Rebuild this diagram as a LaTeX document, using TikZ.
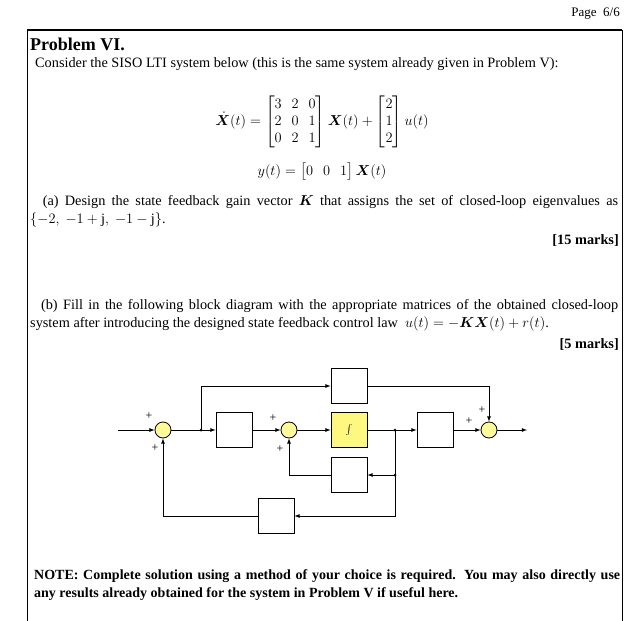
\documentclass[tikz,border=0pt]{standalone}
\usepackage{amsmath,bm}
\usepackage{fontspec}
\setmainfont{Liberation Serif}
\begin{document}
\begin{tikzpicture}[x=1pt,y=-1pt,>=latex,
  blk/.style={draw,thick,minimum width=36pt,minimum height=35pt,inner sep=0pt},
  sumc/.style={circle,draw,thick,fill=yellow!40,minimum size=16pt,inner sep=0pt},
  wire/.style={thick},
  txt/.style={anchor=west,inner sep=0pt,font=\fontsize{14.3}{16}\selectfont},
  pl/.style={inner sep=0pt,font=\fontsize{12}{12}\selectfont}]
\useasboundingbox (0,0) rectangle (633,621);
\fill[white] (0,0) rectangle (633,621);
\draw[thick] (27,621) -- (27,30) -- (622,30) -- (622,621);
\draw[line width=1.6pt] (27,30) -- (622,30);
\node[anchor=east,inner sep=0pt,font=\fontsize{13}{15}\selectfont] (pg) at (620,14) {Page\ \ 6/6};
\node[txt,font=\fontsize{18}{20}\selectfont\bfseries] (t1) at (30,44) {Problem VI.};
\node[txt] (t2) at (35,64) {Consider the SISO LTI system below (this is the same system already given in Problem V):};
\node[inner sep=0pt,font=\fontsize{14}{17}\selectfont] (e1) at (322,122) {$\dot{\bm X}(t)=\begin{bmatrix}3&2&0\\2&0&1\\0&2&1\end{bmatrix}\bm X(t)+\begin{bmatrix}2\\1\\2\end{bmatrix}u(t)$};
\node[inner sep=0pt,font=\fontsize{14}{17}\selectfont] (e2) at (322,172) {$y(t)=\begin{bmatrix}0&0&1\end{bmatrix}\bm X(t)$};
\node[txt,anchor=north west] (a) at (30,195) {\parbox{588pt}{\fontsize{14.3}{18}\selectfont\ \ (a) Design the state feedback gain vector $\bm K$ that assigns the set of closed-loop eigenvalues as\linebreak $\{-2,\ -1+\mathrm{j},\ -1-\mathrm{j}\}$.}};
\node[anchor=east,inner sep=0pt,font=\fontsize{14.3}{16}\selectfont\bfseries] (m1) at (619,240) {[15 marks]};
\node[txt,anchor=north west] (b) at (30,299) {\parbox{588pt}{\fontsize{14.3}{18}\selectfont\ \ (b) Fill in the following block diagram with the appropriate matrices of the obtained closed-loop\linebreak system after introducing the designed state feedback control law \ $u(t)=-\bm{KX}(t)+r(t)$.}};
\node[anchor=east,inner sep=0pt,font=\fontsize{14.3}{16}\selectfont\bfseries] (m2) at (619,344) {[5 marks]};
\node[txt,anchor=north west] (n) at (34,569) {\parbox{586pt}{\fontsize{14}{18}\selectfont\bfseries NOTE: Complete solution using a method of your choice is required. You may also directly use\linebreak any results already obtained for the system in Problem V if useful here.}};
% block diagram
\coordinate (in) at (118,430);
\node[sumc] (s1) at (163,430) {};
\node[blk] (B) at (234,430) {};
\node[sumc] (s2) at (289,430) {};
\node[blk,fill=yellow!50] (I) at (349,430) {$\int$};
\node[blk] (C) at (435,430) {};
\node[sumc] (s3) at (489,430) {};
\coordinate (out) at (527,430);
\node[blk] (D) at (349,386) {};
\node[blk] (A) at (349,475) {};
\node[blk] (K) at (276,516) {};
\coordinate (p1) at (201,430);
\coordinate (p2) at (395,430);
\coordinate (p3) at (395,475);
\fill (p1) circle (1.5pt) (p2) circle (1.5pt) (p3) circle (1.5pt);
\draw[wire,->] (in) -- (s1);
\draw[wire,->] (s1) -- (B);
\draw[wire,->] (B) -- (s2);
\draw[wire,->] (s2) -- (I);
\draw[wire,->] (I) -- (C);
\draw[wire,->] (C) -- (s3);
\draw[wire,->] (s3) -- (out);
\draw[wire,->] (p1) |- (D);
\draw[wire,->] (D) -| (s3);
\draw[wire,->] (p2) |- (A);
\draw[wire,->] (p3) |- (K);
\draw[wire,->] (A) -| (s2);
\draw[wire,->] (K) -| (s1);
\node[pl] (q1) at (149,416) {+};
\node[pl] (q2) at (155,448) {+};
\node[pl] (q3) at (273,418) {+};
\node[pl] (q4) at (280,449) {+};
\node[pl] (q5) at (469,421) {+};
\node[pl] (q6) at (482,410) {+};
\end{tikzpicture}
\end{document}
